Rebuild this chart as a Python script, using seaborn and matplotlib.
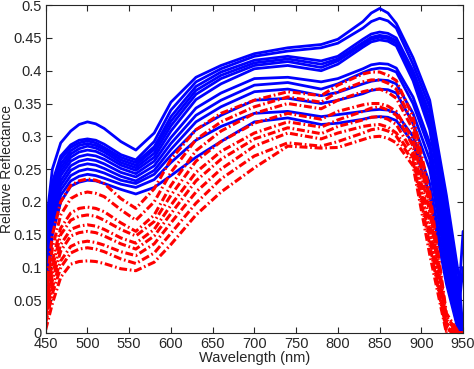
import numpy as np
import pandas as pd
import seaborn as sns
import matplotlib
matplotlib.use("Agg")
import matplotlib.pyplot as plt

# wavelength samples (nm)
wavelength = [450, 458, 468, 480, 490, 500, 510, 520, 540, 558, 580, 600, 630, 660,
              700, 740, 780, 800, 830, 840, 850, 860, 870, 890, 910, 930, 945, 950]

# solid blue spectra
blue_curves = [
    [0.16, 0.25, 0.29, 0.308, 0.318, 0.322, 0.319, 0.312, 0.292, 0.279, 0.305, 0.352, 0.390, 0.408, 0.426, 0.435, 0.440, 0.448, 0.475, 0.488, 0.495, 0.488, 0.472, 0.420, 0.355, 0.210, 0.085, 0.000],
    [0.15, 0.23, 0.27, 0.287, 0.294, 0.296, 0.294, 0.288, 0.272, 0.264, 0.292, 0.340, 0.383, 0.403, 0.422, 0.430, 0.435, 0.442, 0.465, 0.475, 0.480, 0.476, 0.465, 0.410, 0.345, 0.200, 0.060, 0.155],
    [0.14, 0.22, 0.265, 0.283, 0.290, 0.293, 0.290, 0.283, 0.268, 0.260, 0.284, 0.330, 0.376, 0.398, 0.416, 0.422, 0.415, 0.422, 0.448, 0.456, 0.459, 0.457, 0.450, 0.400, 0.335, 0.190, 0.050, 0.000],
    [0.12, 0.21, 0.258, 0.278, 0.286, 0.289, 0.286, 0.280, 0.264, 0.256, 0.280, 0.323, 0.370, 0.393, 0.412, 0.418, 0.410, 0.418, 0.443, 0.451, 0.454, 0.452, 0.446, 0.395, 0.325, 0.180, 0.040, 0.100],
    [0.11, 0.205, 0.252, 0.273, 0.281, 0.285, 0.282, 0.276, 0.260, 0.252, 0.274, 0.316, 0.364, 0.388, 0.408, 0.414, 0.405, 0.415, 0.440, 0.448, 0.451, 0.449, 0.442, 0.390, 0.318, 0.170, 0.030, 0.000],
    [0.10, 0.20, 0.246, 0.268, 0.276, 0.279, 0.277, 0.271, 0.256, 0.248, 0.268, 0.308, 0.356, 0.380, 0.403, 0.408, 0.400, 0.410, 0.436, 0.444, 0.447, 0.445, 0.438, 0.385, 0.310, 0.160, 0.025, 0.000],
    [0.09, 0.19, 0.24, 0.262, 0.269, 0.272, 0.270, 0.265, 0.251, 0.243, 0.262, 0.298, 0.343, 0.366, 0.388, 0.390, 0.383, 0.388, 0.403, 0.409, 0.411, 0.410, 0.404, 0.360, 0.290, 0.145, 0.020, 0.000],
    [0.08, 0.185, 0.232, 0.255, 0.262, 0.265, 0.263, 0.258, 0.245, 0.238, 0.255, 0.289, 0.332, 0.355, 0.378, 0.382, 0.372, 0.380, 0.397, 0.402, 0.404, 0.403, 0.398, 0.350, 0.280, 0.135, 0.015, 0.000],
    [0.07, 0.18, 0.225, 0.248, 0.255, 0.258, 0.256, 0.251, 0.239, 0.232, 0.248, 0.280, 0.322, 0.345, 0.368, 0.372, 0.362, 0.367, 0.380, 0.384, 0.386, 0.385, 0.380, 0.335, 0.265, 0.120, 0.010, 0.000],
    [0.06, 0.17, 0.218, 0.240, 0.247, 0.250, 0.248, 0.244, 0.233, 0.228, 0.242, 0.271, 0.310, 0.332, 0.355, 0.358, 0.350, 0.355, 0.365, 0.370, 0.372, 0.371, 0.366, 0.320, 0.250, 0.105, 0.005, 0.000],
    [0.05, 0.16, 0.21, 0.232, 0.239, 0.242, 0.240, 0.236, 0.227, 0.222, 0.234, 0.260, 0.294, 0.315, 0.335, 0.338, 0.330, 0.333, 0.338, 0.340, 0.341, 0.340, 0.335, 0.300, 0.228, 0.090, 0.000, 0.000],
    [0.04, 0.15, 0.20, 0.224, 0.230, 0.233, 0.232, 0.228, 0.219, 0.212, 0.222, 0.240, 0.268, 0.292, 0.322, 0.328, 0.318, 0.320, 0.326, 0.329, 0.330, 0.329, 0.324, 0.290, 0.210, 0.075, 0.000, 0.000],
]

# dash-dot red spectra
red_curves = [
    [0.06, 0.15, 0.20, 0.225, 0.232, 0.235, 0.233, 0.228, 0.205, 0.190, 0.220, 0.265, 0.310, 0.335, 0.355, 0.368, 0.362, 0.378, 0.395, 0.398, 0.398, 0.393, 0.385, 0.330, 0.215, 0.030, 0.0, 0.0],
    [0.05, 0.13, 0.18, 0.205, 0.212, 0.215, 0.213, 0.208, 0.188, 0.172, 0.200, 0.245, 0.295, 0.322, 0.345, 0.360, 0.352, 0.368, 0.383, 0.386, 0.386, 0.381, 0.372, 0.320, 0.205, 0.025, 0.0, 0.0],
    [0.04, 0.11, 0.16, 0.183, 0.190, 0.192, 0.190, 0.185, 0.168, 0.155, 0.180, 0.225, 0.278, 0.308, 0.335, 0.350, 0.342, 0.355, 0.368, 0.371, 0.372, 0.367, 0.358, 0.310, 0.195, 0.020, 0.0, 0.0],
    [0.035, 0.10, 0.15, 0.172, 0.178, 0.180, 0.178, 0.172, 0.158, 0.148, 0.170, 0.210, 0.262, 0.292, 0.320, 0.335, 0.326, 0.338, 0.348, 0.350, 0.350, 0.346, 0.338, 0.295, 0.185, 0.015, 0.0, 0.0],
    [0.03, 0.09, 0.135, 0.158, 0.163, 0.165, 0.163, 0.158, 0.145, 0.137, 0.158, 0.195, 0.245, 0.277, 0.305, 0.322, 0.314, 0.325, 0.338, 0.343, 0.345, 0.340, 0.332, 0.285, 0.170, 0.010, 0.0, 0.0],
    [0.025, 0.08, 0.125, 0.148, 0.153, 0.155, 0.153, 0.148, 0.136, 0.128, 0.148, 0.182, 0.232, 0.265, 0.296, 0.313, 0.304, 0.315, 0.325, 0.329, 0.330, 0.326, 0.318, 0.275, 0.155, 0.008, 0.0, 0.0],
    [0.02, 0.07, 0.11, 0.132, 0.138, 0.140, 0.138, 0.134, 0.124, 0.118, 0.136, 0.168, 0.215, 0.250, 0.285, 0.305, 0.296, 0.305, 0.315, 0.317, 0.318, 0.314, 0.305, 0.268, 0.145, 0.005, 0.0, 0.0],
    [0.015, 0.06, 0.10, 0.122, 0.128, 0.130, 0.128, 0.124, 0.113, 0.106, 0.122, 0.152, 0.198, 0.235, 0.270, 0.290, 0.285, 0.292, 0.305, 0.310, 0.312, 0.308, 0.300, 0.262, 0.135, 0.003, 0.0, 0.0],
    [0.005, 0.045, 0.085, 0.105, 0.109, 0.110, 0.109, 0.106, 0.098, 0.095, 0.108, 0.135, 0.180, 0.215, 0.252, 0.285, 0.282, 0.283, 0.295, 0.299, 0.300, 0.297, 0.290, 0.255, 0.120, 0.000, 0.0, 0.0],
]


def to_long(curves):
    rows = []
    for i, vals in enumerate(curves):
        for w, v in zip(wavelength, vals):
            rows.append({"curve": i, "wavelength": w, "reflectance": v})
    return pd.DataFrame(rows)


blue_df = to_long(blue_curves)
red_df = to_long(red_curves)

sns.set_style("ticks")
plt.rcParams["font.family"] = ["Liberation Sans", "DejaVu Sans"]
plt.rcParams["xtick.direction"] = "in"
plt.rcParams["ytick.direction"] = "in"

fig = plt.figure(figsize=(4.74, 3.69), dpi=100)
ax = fig.add_axes([0.0964, 0.0976, 0.8806, 0.8884])

sns.lineplot(data=blue_df, x="wavelength", y="reflectance", units="curve",
             estimator=None, color="#0000ff", linewidth=2.0, ax=ax, legend=False)
sns.lineplot(data=red_df, x="wavelength", y="reflectance", units="curve",
             estimator=None, color="#ff0000", linewidth=2.2,
             linestyle=(0, (2.6, 0.9, 0.55, 0.9)), ax=ax, legend=False)

ax.set_xlim(450, 950)
ax.set_ylim(0, 0.5)
ax.set_xticks(np.arange(450, 951, 50))
ax.set_yticks(np.arange(0, 0.501, 0.05))
ax.set_yticklabels(["0", "0.05", "0.1", "0.15", "0.2", "0.25", "0.3",
                    "0.35", "0.4", "0.45", "0.5"])
ax.tick_params(axis="both", which="both", top=True, right=True,
               length=4, width=0.8, labelsize=10.5, pad=3)
for s in ax.spines.values():
    s.set_linewidth(0.8)
    s.set_visible(True)
ax.set_xlabel("Wavelength (nm)", fontsize=10.5, labelpad=0)
ax.set_ylabel("Relative Reflectance", fontsize=10)
ax.yaxis.set_label_coords(-0.077, 0.5)

fig.savefig("out.png", dpi=100)
